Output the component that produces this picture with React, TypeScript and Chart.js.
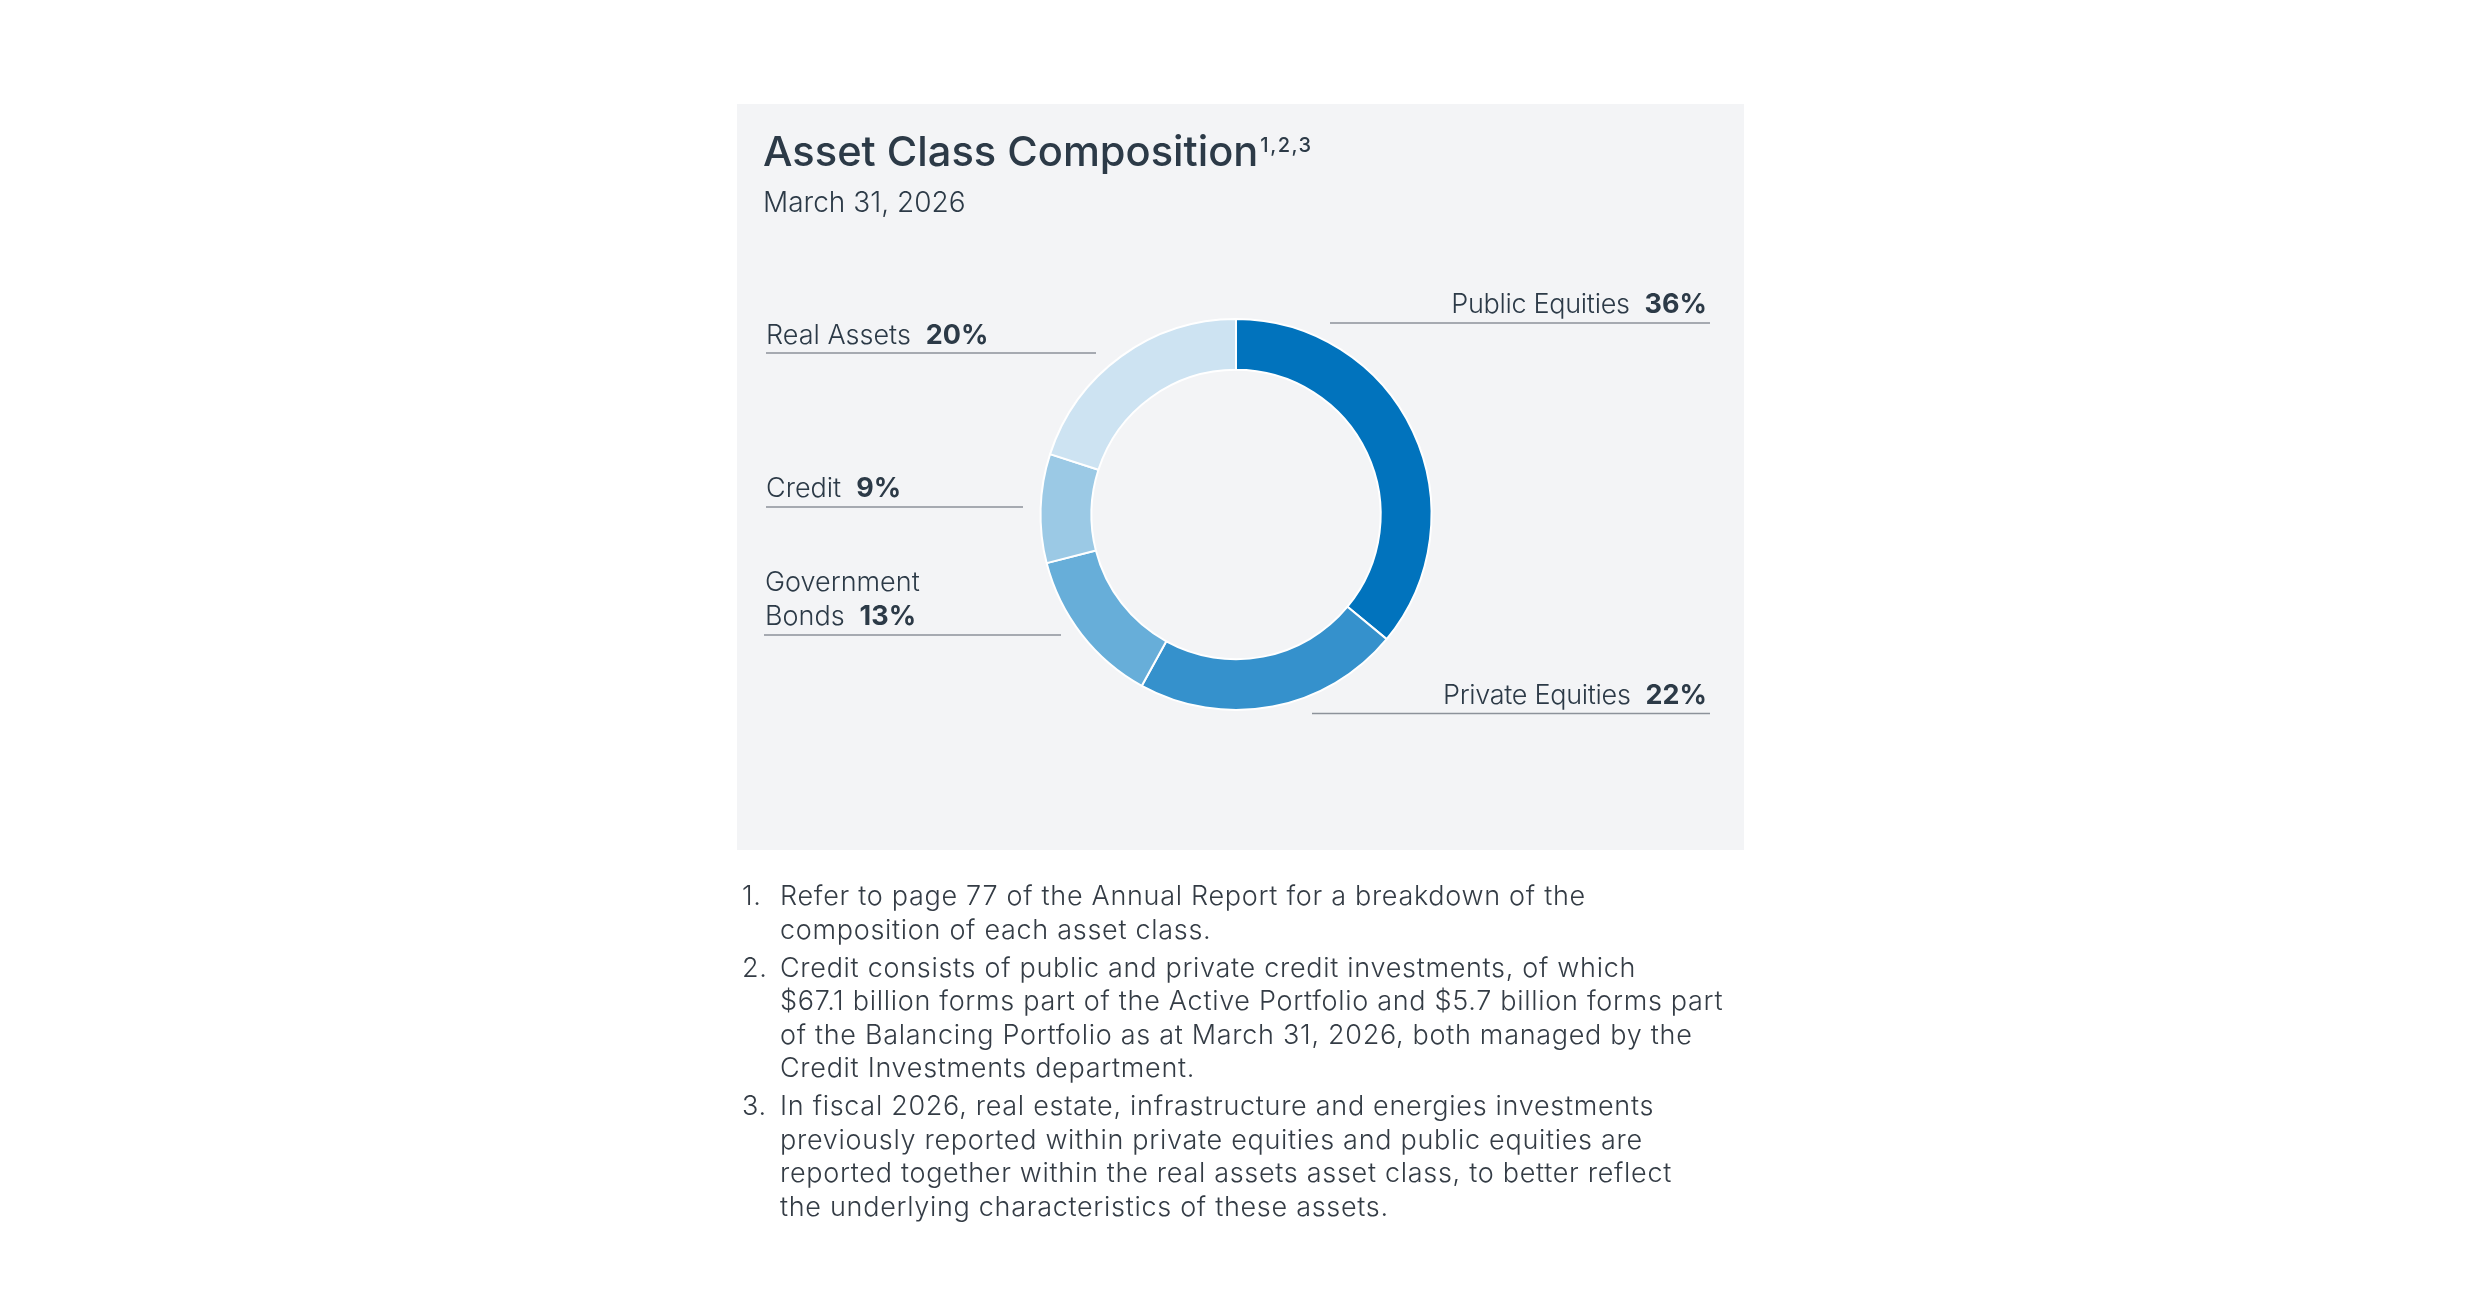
import React, { useEffect, useRef } from 'react';
import { Chart, registerables } from 'chart.js';

Chart.register(...registerables);

// ---- data ----
const categories = ['Public Equities', 'Private Equities', 'Government Bonds', 'Credit', 'Real Assets'];
const shares = [36, 22, 13, 9, 20];
const sliceColors = ['#0173BD', '#3591CC', '#67AED9', '#9BC9E5', '#CDE3F2'];

const titleText = 'Asset Class Composition';
const titleNoteRefs = '1,2,3';
const subtitleText = 'March 31, 2026';

const footnoteMarks = ['1.', '2.', '3.'];
const footnoteLines = [
  ['Refer to page 77 of the Annual Report for a breakdown of the', 'composition of each asset class.'],
  [
    'Credit consists of public and private credit investments, of which',
    '$67.1 billion forms part of the Active Portfolio and $5.7 billion forms part',
    'of the Balancing Portfolio as at March 31, 2026, both managed by the',
    'Credit Investments department.',
  ],
  [
    'In fiscal 2026, real estate, infrastructure and energies investments',
    'previously reported within private equities and public equities are',
    'reported together within the real assets asset class, to better reflect',
    'the underlying characteristics of these assets.',
  ],
];

// ---- layout & style ----
const CANVAS_LEFT = 737;
const CANVAS_TOP = 104;
const CANVAS_W = 1007;
const CANVAS_H = 1140;
const PANEL_H = 746;
const PANEL_BG = '#F3F4F6';
const INK = '#2C3A47';
const NOTE_INK = '#343C45';
const RULE = '#8C929A';
const FONT_FAMILY = 'Inter, "Liberation Sans", Arial, sans-serif';

// label anchor boxes (canvas px), one per category, in category order
const labelLayout = [
  { side: 'right', x: 970, baseline: 209, ruleY: 219, ruleX0: 593, ruleX1: 973 },
  { side: 'right', x: 970, baseline: 600, ruleY: 609.5, ruleX0: 575, ruleX1: 973 },
  { side: 'left', x: 28, baseline: 521, ruleY: 531, ruleX0: 27, ruleX1: 324 },
  { side: 'left', x: 29, baseline: 393, ruleY: 403, ruleX0: 29, ruleX1: 286 },
  { side: 'left', x: 29, baseline: 240, ruleY: 249, ruleX0: 29, ruleX1: 359 },
];
const labelWrap: Record<string, string[]> = { 'Government Bonds': ['Government', 'Bonds'] };

const panelPlugin = {
  id: 'panelDecor',
  beforeDraw(chart: any) {
    const ctx = chart.ctx as CanvasRenderingContext2D;
    ctx.save();
    ctx.fillStyle = PANEL_BG;
    ctx.fillRect(0, 0, CANVAS_W, PANEL_H);
    ctx.restore();
  },
  afterDraw(chart: any) {
    const ctx = chart.ctx as CanvasRenderingContext2D;
    const c = ctx as any;
    ctx.save();
    ctx.textBaseline = 'alphabetic';

    // heading
    ctx.fillStyle = INK;
    ctx.textAlign = 'left';
    ctx.font = `500 41.6px ${FONT_FAMILY}`;
    ctx.fillText(titleText, 26, 62);
    const tw = ctx.measureText(titleText).width;
    ctx.font = `500 20px ${FONT_FAMILY}`;
    c.letterSpacing = '1.5px';
    ctx.fillText(titleNoteRefs, 26 + tw + 2, 48);
    c.letterSpacing = '0px';
    ctx.font = `300 28px ${FONT_FAMILY}`;
    ctx.fillText(subtitleText, 26, 108);

    // slice labels with rules
    const nameFont = `300 27px ${FONT_FAMILY}`;
    const valueFont = `700 27px ${FONT_FAMILY}`;
    const gap = 15;
    categories.forEach((cat, i) => {
      const lay = labelLayout[i];
      const lines = labelWrap[cat] || [cat];
      const pct = `${shares[i]}%`;
      ctx.fillStyle = INK;
      lines.forEach((line, k) => {
        const y = lay.baseline - (lines.length - 1 - k) * 34;
        const isLast = k === lines.length - 1;
        if (lay.side === 'left') {
          ctx.textAlign = 'left';
          ctx.font = nameFont;
          ctx.fillText(line, lay.x, y);
          if (isLast) {
            const w = ctx.measureText(line).width;
            ctx.font = valueFont;
            ctx.fillText(pct, lay.x + w + gap, y);
          }
        } else {
          ctx.textAlign = 'right';
          let x = lay.x;
          if (isLast) {
            ctx.font = valueFont;
            ctx.fillText(pct, x, y);
            x -= ctx.measureText(pct).width + gap;
          }
          ctx.font = nameFont;
          c.letterSpacing = '-0.3px';
          ctx.fillText(line, x, y);
          c.letterSpacing = '0px';
        }
      });
      ctx.strokeStyle = RULE;
      ctx.lineWidth = 1.5;
      ctx.beginPath();
      ctx.moveTo(lay.ruleX0, lay.ruleY);
      ctx.lineTo(lay.ruleX1, lay.ruleY);
      ctx.stroke();
    });

    // footnotes
    ctx.fillStyle = NOTE_INK;
    ctx.textAlign = 'left';
    ctx.font = `300 27px ${FONT_FAMILY}`;
    c.letterSpacing = '0.7px';
    let y = 801;
    footnoteLines.forEach((para, p) => {
      ctx.fillText(footnoteMarks[p], 5, y);
      para.forEach((line) => {
        ctx.fillText(line, 43, y);
        y += 33.5;
      });
      y += 4.5;
    });
    c.letterSpacing = '0px';
    ctx.restore();
  },
};

export default function App() {
  const canvasRef = useRef<HTMLCanvasElement | null>(null);

  useEffect(() => {
    const canvas = canvasRef.current;
    if (!canvas) return;
    const chart = new Chart(canvas, {
      type: 'doughnut',
      data: {
        labels: categories,
        datasets: [
          {
            data: shares,
            backgroundColor: sliceColors,
            borderColor: '#FFFFFF',
            borderWidth: 2,
            hoverOffset: 0,
          },
        ],
      },
      options: {
        responsive: false,
        animation: false,
        devicePixelRatio: 1,
        cutout: '74%',
        layout: { padding: { left: 302.5, top: 214, right: 311.5, bottom: 533 } },
        plugins: {
          legend: { display: false },
          tooltip: { enabled: false },
          title: { display: false },
        },
        events: [],
      },
      plugins: [panelPlugin],
    });
    return () => chart.destroy();
  }, []);

  return (
    <div style={{ position: 'absolute', left: 0, top: 0, width: 2483, height: 1300, background: '#FFFFFF' }}>
      <canvas
        ref={canvasRef}
        width={CANVAS_W}
        height={CANVAS_H}
        style={{ position: 'absolute', left: CANVAS_LEFT, top: CANVAS_TOP, width: CANVAS_W, height: CANVAS_H }}
      />
    </div>
  );
}
